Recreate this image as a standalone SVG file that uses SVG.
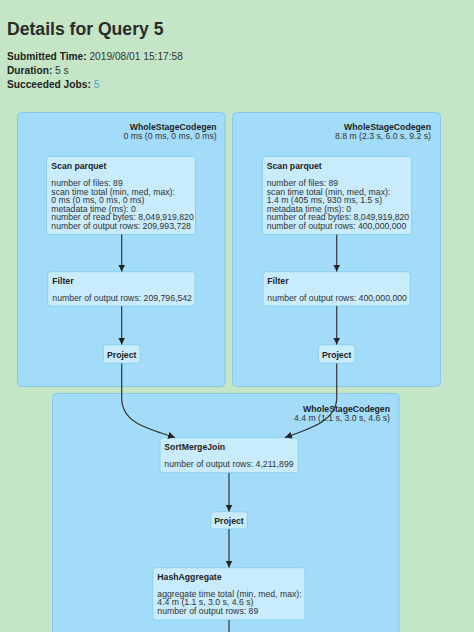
<svg xmlns="http://www.w3.org/2000/svg" width="474" height="632" viewBox="0 0 474 632">
<style>
text{font-family:"Liberation Sans",Arial,Helvetica,sans-serif;fill:#333}
.h1{font-size:17.6px;font-weight:bold;fill:#2b2b2b}
.meta{font-size:10.2px;fill:#333}
.b{font-weight:bold;fill:#222}
.cl{fill:#a3dcf8;stroke:#88c8e8;stroke-width:1}
.nd{fill:#c8ecfc;stroke:#8cd0f0;stroke-width:1}
.t{font-size:8.7px}
.tb{font-size:8.7px;font-weight:bold;fill:#222}
.edge{fill:none;stroke:#333;stroke-width:1.2}
</style>
<defs>
<marker id="arr" markerUnits="userSpaceOnUse" markerWidth="8" markerHeight="8" refX="7" refY="3.5" orient="auto">
<path d="M0,0 L7,3.5 L0,7 z" fill="#222"/>
</marker>
</defs>
<rect width="474" height="632" fill="#c4e6c6"/>
<g id="header">
<text class="h1" x="7" y="35">Details for Query 5</text>
<text class="meta" x="7" y="60"><tspan class="b">Submitted Time:</tspan> 2019/08/01 15:17:58</text>
<text class="meta" x="7" y="74"><tspan class="b">Duration:</tspan> 5 s</text>
<text class="meta" x="7" y="88"><tspan class="b">Succeeded Jobs:</tspan> <tspan fill="#4a9fd6">5</tspan></text>
</g>
<g id="cluster1">
<rect class="cl" x="17.5" y="112.5" width="207.5" height="274" rx="4"/>
<text class="tb" x="216.7" y="130" text-anchor="end">WholeStageCodegen</text>
<text class="t" x="216.7" y="139" text-anchor="end">0 ms (0 ms, 0 ms, 0 ms)</text>
</g>
<g id="cluster2">
<rect class="cl" x="232.5" y="112.5" width="208" height="274" rx="4"/>
<text class="tb" x="431" y="130" text-anchor="end">WholeStageCodegen</text>
<text class="t" x="431" y="139" text-anchor="end">8.8 m (2.3 s, 6.0 s, 9.2 s)</text>
</g>
<g id="cluster3">
<rect class="cl" x="52.5" y="393.5" width="346.5" height="250" rx="4"/>
<text class="tb" x="390" y="411.5" text-anchor="end">WholeStageCodegen</text>
<text class="t" x="390" y="420.5" text-anchor="end">4.4 m (1.1 s, 3.0 s, 4.6 s)</text>
</g>
<g id="scan1">
<rect class="nd" x="46.5" y="156.5" width="149" height="78" rx="3"/>
<text class="tb" x="51.3" y="169">Scan parquet</text>
<text class="t" x="51.3" y="186">number of files: 89</text>
<text class="t" x="51.3" y="194.5">scan time total (min, med, max):</text>
<text class="t" x="51.3" y="203">0 ms (0 ms, 0 ms, 0 ms)</text>
<text class="t" x="51.3" y="211.5">metadata time (ms): 0</text>
<text class="t" x="51.3" y="220">number of read bytes: 8,049,919,820</text>
<text class="t" x="51.3" y="228.5">number of output rows: 209,993,728</text>
</g>
<g id="scan2">
<rect class="nd" x="262.3" y="156.5" width="149.4" height="78" rx="3"/>
<text class="tb" x="266.7" y="169">Scan parquet</text>
<text class="t" x="266.7" y="186">number of files: 89</text>
<text class="t" x="266.7" y="194.5">scan time total (min, med, max):</text>
<text class="t" x="266.7" y="203">1.4 m (405 ms, 930 ms, 1.5 s)</text>
<text class="t" x="266.7" y="211.5">metadata time (ms): 0</text>
<text class="t" x="266.7" y="220">number of read bytes: 8,049,919,820</text>
<text class="t" x="266.7" y="228.5">number of output rows: 400,000,000</text>
</g>
<g id="filter1">
<rect class="nd" x="47.7" y="271.7" width="147.3" height="34.3" rx="3"/>
<text class="tb" x="52.3" y="283.5">Filter</text>
<text class="t" x="52.3" y="301">number of output rows: 209,796,542</text>
</g>
<g id="filter2">
<rect class="nd" x="263" y="271.7" width="147.3" height="34.3" rx="3"/>
<text class="tb" x="267.3" y="283.5">Filter</text>
<text class="t" x="267.3" y="301">number of output rows: 400,000,000</text>
</g>
<g id="project1">
<rect class="nd" x="103.3" y="344.7" width="36.7" height="18.6" rx="3"/>
<text class="tb" x="121.7" y="357.5" text-anchor="middle">Project</text>
</g>
<g id="project2">
<rect class="nd" x="318.3" y="344.7" width="36.7" height="18.6" rx="3"/>
<text class="tb" x="336.7" y="357.5" text-anchor="middle">Project</text>
</g>
<g id="smj">
<rect class="nd" x="160" y="437.7" width="138.3" height="35" rx="3"/>
<text class="tb" x="164.3" y="449.5">SortMergeJoin</text>
<text class="t" x="164.3" y="466.5">number of output rows: 4,211,899</text>
</g>
<g id="project3">
<rect class="nd" x="210.7" y="511.7" width="36.6" height="17.3" rx="3"/>
<text class="tb" x="229" y="523.5" text-anchor="middle">Project</text>
</g>
<g id="hashagg">
<rect class="nd" x="152.7" y="567.7" width="152.3" height="52.3" rx="3"/>
<text class="tb" x="157.3" y="579.5">HashAggregate</text>
<text class="t" x="157.3" y="596.5">aggregate time total (min, med, max):</text>
<text class="t" x="157.3" y="605">4.4 m (1.1 s, 3.0 s, 4.6 s)</text>
<text class="t" x="157.3" y="613.5">number of output rows: 89</text>
</g>
<g id="connectors">
<path class="edge" d="M121.7,234.5 V271.5" marker-end="url(#arr)"/>
<path class="edge" d="M121.7,306 V344.5" marker-end="url(#arr)"/>
<path class="edge" d="M336.7,234.5 V271.5" marker-end="url(#arr)"/>
<path class="edge" d="M336.7,306 V344.5" marker-end="url(#arr)"/>
<path class="edge" d="M121.7,363.5 V398 C121.7,422 145,428 175,437.5" marker-end="url(#arr)"/>
<path class="edge" d="M336.7,363.5 V398 C336.7,420 312,428 285,437.5" marker-end="url(#arr)"/>
<path class="edge" d="M229,473 V511.5" marker-end="url(#arr)"/>
<path class="edge" d="M229,529 V567.5" marker-end="url(#arr)"/>
<path class="edge" d="M229,620 V632"/>
</g>
</svg>
